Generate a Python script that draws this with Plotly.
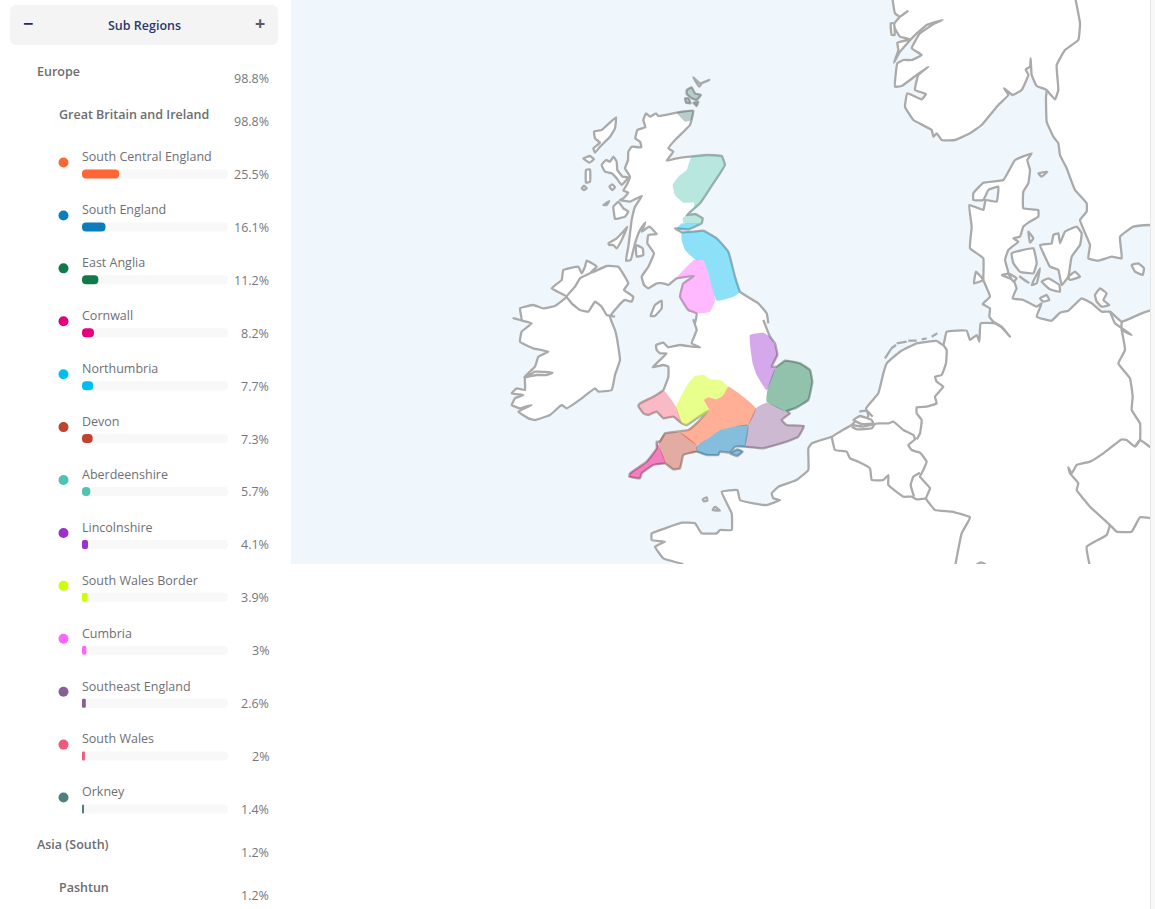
import plotly.graph_objects as go

W, H = 1155, 909

# sidebar values
sub_names = ["South Central England", "South England", "East Anglia", "Cornwall", "Northumbria", "Devon",
             "Aberdeenshire", "Lincolnshire", "South Wales Border", "Cumbria", "Southeast England",
             "South Wales", "Orkney"]
sub_shares = [25.5, 16.1, 11.2, 8.2, 7.7, 7.3, 5.7, 4.1, 3.9, 3, 2.6, 2, 1.4]
sub_colors = ["#ff6633", "#0b7dbb", "#12794a", "#e6007e", "#00bdf2", "#bf432e", "#4dc3b0", "#9b30d0",
              "#ccff00", "#ff66ff", "#8a5f96", "#f05a78", "#4f7f80"]
group_names = ["Europe", "Great Britain and Ireland", "Asia (South)", "Pashtun"]
group_shares = [98.8, 98.8, 1.2, 1.2]

A = (500, 70)    # scotland / north ireland
B = (500, 320)   # england / wales / south ireland / normandy
C = (820, 0)     # norway / sweden / denmark
D = (820, 280)   # low countries / germany

gb_east = [(790, 0), (810, 50), (825, 70), (832, 105), (815, 140), (830, 140), (855, 122), (900, 130), (930, 150),
           (937, 185), (925, 240), (885, 265), (860, 272), (870, 280), (845, 300), (860, 315), (912, 318), (895, 350),
           (860, 365), (790, 385), (735, 380), (705, 380), (690, 398), (660, 395), (655, 405), (620, 405), (590, 395),
           (550, 405), (540, 445), (520, 448), (495, 430), (460, 435), (425, 460), (420, 475), (388, 470), (390, 460),
           (440, 425), (470, 385), (470, 365), (480, 365), (495, 340), (530, 335), (565, 330), (590, 310), (625, 272),
           (590, 295), (560, 315), (545, 310), (520, 290), (490, 295), (470, 275), (445, 285), (430, 280), (415, 258),
           (420, 250), (460, 230), (490, 210), (505, 170), (505, 140), (490, 135), (458, 142), (475, 125), (500, 100),
           (480, 100), (470, 90), (468, 75), (490, 68), (505, 82), (540, 75), (575, 80), (600, 82), (575, 70), (590, 30),
           (580, 0)]
gb_north = [(585, 760), (590, 730), (565, 720), (540, 680), (550, 640), (582, 618), (530, 625), (505, 645), (490, 640),
            (470, 640), (445, 655), (432, 645), (425, 620), (445, 590), (462, 550), (442, 520), (445, 495), (470, 492),
            (448, 470), (425, 485), (436, 458), (420, 480), (405, 520), (392, 570), (378, 572), (385, 530), (390, 490),
            (395, 450), (405, 410), (426, 378), (390, 395), (360, 390), (370, 385), (385, 368), (370, 362), (380, 345),
            (390, 320), (375, 295), (384, 270), (385, 245), (395, 230), (424, 232), (420, 215), (406, 205), (412, 180),
            (436, 172), (430, 150), (438, 130), (450, 140), (468, 130), (475, 138), (535, 127), (580, 122), (570, 165),
            (530, 205), (505, 235), (520, 245), (500, 272), (530, 265), (570, 260), (620, 255), (665, 258), (675, 285),
            (660, 310), (640, 340), (600, 400), (560, 436), (585, 432), (608, 445), (605, 460), (565, 478), (525, 475),
            (545, 487), (580, 485), (610, 482), (650, 505), (685, 545), (705, 620), (720, 665), (775, 700), (800, 730),
            (805, 760)]
ireland_north = [(60, 750), (40, 745), (65, 750), (60, 715), (100, 705), (130, 715), (165, 708), (200, 680), (155, 655),
                 (185, 630), (190, 600), (235, 590), (245, 610), (255, 590), (260, 572), (290, 590), (270, 610), (320, 588),
                 (355, 590), (385, 640), (372, 660), (400, 680), (395, 695), (375, 690), (362, 700), (330, 740), (345, 780)]
ireland_south = [(350, 50), (360, 120), (345, 165), (335, 210), (295, 215), (285, 205), (245, 235), (200, 265), (185, 255),
                 (150, 285), (105, 300), (85, 295), (55, 275), (95, 255), (60, 265), (35, 255), (45, 235), (70, 225),
                 (35, 220), (50, 205), (75, 210), (75, 175), (105, 155), (158, 158), (140, 165), (110, 165), (72, 172),
                 (105, 140), (115, 110), (145, 95), (100, 85), (60, 65), (65, 35), (95, 10), (60, 0)]
ni_border = [(270, 610), (240, 625), (225, 650), (200, 680), (215, 700), (240, 720), (265, 725), (285, 695), (305, 710),
             (320, 735), (345, 740)]

scot_islands = [
    [(348, 142), (345, 175), (330, 200), (300, 230), (285, 248), (280, 235), (300, 218), (285, 205), (282, 185), (305, 180)],
    [(250, 265), (270, 258), (282, 268), (268, 278)],
    [(258, 300), (270, 298), (270, 335), (258, 338)],
    [(245, 355), (252, 347), (260, 355), (252, 360)],
    [(305, 285), (318, 270), (330, 275), (340, 260), (350, 275), (352, 300), (368, 320), (385, 322), (365, 345), (350, 325),
     (335, 310), (315, 305)],
    [(328, 350), (337, 343), (345, 352), (337, 360)],
    [(310, 405), (328, 393), (320, 405)],
    [(340, 410), (355, 395), (370, 415), (385, 425), (375, 440), (345, 447), (342, 430)],
    [(325, 520), (350, 505), (365, 490), (382, 470), (365, 510), (350, 535), (340, 525), (328, 525)],
    [(408, 525), (428, 535), (430, 555), (410, 560)],
    [(452, 738), (465, 705), (485, 692), (485, 715), (465, 738)],
    [(580, 22), (600, 40), (628, 30), (605, 40), (598, 50)],
]
orkney_islands = [
    [(560, 60), (575, 52), (585, 70), (603, 75), (590, 90), (575, 85), (560, 72)],
    [(555, 85), (565, 85), (572, 100), (558, 98)],
    [(580, 98), (595, 95), (590, 108)],
]
south_islands = [
    [(690, 400), (712, 388), (728, 395), (712, 408)],
    [(608, 538), (620, 532), (622, 542), (612, 544)],
    [(638, 570), (645, 560), (660, 572)],
]

france_coast = [(550, 732), (490, 715), (465, 680), (495, 665), (455, 660), (455, 640), (495, 625), (545, 608), (585, 610),
                (605, 640), (650, 640), (660, 630), (695, 630), (695, 580), (665, 515), (712, 510), (720, 540), (760, 550),
                (800, 555), (840, 540), (820, 535), (815, 520), (835, 500), (890, 480), (925, 450), (925, 385), (935, 370),
                (995, 350)]
low_coast = [(60, 455), (95, 435), (105, 425), (140, 420), (145, 405), (138, 385), (175, 340), (190, 280), (200, 250),
             (240, 215), (290, 190), (350, 183), (370, 195), (380, 155), (440, 152), (450, 180), (470, 165), (478, 185),
             (482, 130), (525, 130), (545, 142), (570, 170), (545, 140), (520, 125), (508, 110), (510, 85), (488, 72),
             (510, 50), (495, 12)]
jutland_coast = [(490, 840), (490, 775), (450, 745), (455, 680), (448, 615), (490, 630), (497, 600), (530, 605), (535, 560),
                 (505, 570), (490, 600), (460, 600), (460, 580), (490, 548), (550, 540), (585, 480), (635, 460), (622, 480),
                 (630, 510), (625, 550), (610, 575), (610, 625), (655, 630), (655, 650), (625, 668), (610, 680), (600, 710),
                 (580, 715), (595, 725), (565, 750), (555, 780), (565, 820), (545, 825), (580, 840), (590, 865)]
baltic_coast = [(590, 25), (578, 55), (610, 60), (650, 80), (665, 70), (650, 110), (695, 122), (720, 98), (745, 92), (785, 55),
                (815, 70), (845, 95), (870, 95), (905, 125), (965, 100), (990, 92), (1040, 80), (1040, 1000), (-600, 1000)]

scandinavia = [(215, -20), (225, 40), (240, 50), (265, 32), (240, 50), (220, 75), (240, 110), (270, 118), (232, 128), (235, 150),
               (222, 188), (240, 155), (280, 110), (320, 75), (368, 60), (345, 70), (300, 100), (275, 145), (305, 165), (275, 180),
               (250, 180), (232, 190), (225, 260), (245, 258), (290, 225), (325, 200), (295, 225), (285, 270), (318, 282),
               (305, 298), (262, 280), (255, 320), (280, 360), (335, 390), (340, 410), (350, 400), (365, 420), (405, 420),
               (450, 400), (485, 375), (535, 315), (565, 285), (552, 265), (578, 285), (605, 270), (625, 225), (617, 208),
               (630, 200), (632, 175), (635, 225), (650, 258), (680, 270), (678, 290), (680, 365), (700, 410), (715, 430),
               (720, 465), (740, 505), (765, 570), (800, 610), (800, 635), (780, 660), (810, 735), (805, 775), (835, 782),
               (875, 770), (905, 775), (900, 710), (940, 680), (990, 675), (1040, 675), (1040, -20)]
norway_border = [(680, 270), (705, 298), (715, 270), (710, 195), (735, 150), (775, 120), (780, 70), (765, -10)]
norway_islands = [[(212, 70), (222, 70), (224, 105), (215, 105)]]

denmark_islands = [
    [(660, 735), (695, 730), (700, 705), (715, 700), (720, 730), (735, 695), (770, 680), (785, 700), (780, 735), (755, 770),
     (750, 800), (745, 830), (725, 855), (715, 810), (690, 800), (675, 770)],
    [(575, 760), (640, 745), (650, 790), (640, 820), (600, 815), (580, 790)],
    [(565, 820), (590, 835), (580, 845)],
    [(600, 830), (625, 848), (610, 838)],
    [(635, 855), (660, 805), (650, 850)],
    [(665, 845), (685, 835), (718, 855), (720, 875), (690, 868)],
    [(745, 830), (765, 815), (780, 830), (750, 840)],
    [(655, 520), (682, 515), (665, 530)],
    [(625, 695), (640, 715), (630, 728)],
    [(935, 795), (955, 790), (972, 805), (968, 825), (945, 815)],
    [(462, 850), (468, 815), (490, 840)],
]
german_islands = [
    [(660, 55), (680, 45), (688, 60), (670, 65)],
    [(825, 45), (840, 25), (860, 40), (850, 60), (868, 75), (845, 80), (830, 65)],
    [(100, 420), (120, 408), (155, 420), (160, 430), (125, 432)],
]
low_open_lines = [
    [(195, 235), (215, 205), (228, 195)],
    [(230, 190), (260, 185)],
    [(265, 182), (290, 182)],
    [(305, 178), (320, 175)],
    [(335, 170), (352, 160)],
    [(95, 440), (110, 448), (155, 445), (165, 430)],
    [(118, 395), (140, 392), (158, 410)],
    [(870, 95), (885, 130), (935, 165), (905, 150), (905, 125)],
    [(470, 853), (483, 847), (497, 853)],
    # nl / germany
    [(370, 195), (380, 210), (378, 250), (365, 285), (345, 290), (350, 305), (370, 320), (345, 350), (350, 370), (320, 380),
     (290, 382), (290, 400), (305, 420), (300, 460), (290, 478)],
    # nl / belgium, belgium / germany, germany / france
    [(95, 435), (130, 440), (175, 430), (205, 430), (220, 425), (250, 450), (280, 465), (285, 478), (265, 495), (275, 510),
     (300, 518), (320, 545), (310, 570), (300, 590), (330, 625), (318, 655), (345, 690), (395, 695), (450, 712), (425, 760),
     (405, 860)],
    # belgium / france
    [(35, 470), (45, 510), (80, 515), (90, 535), (115, 545), (150, 565), (155, 600), (190, 600), (205, 585), (205, 615),
     (250, 650), (275, 650), (290, 658), (318, 655)],
    [(300, 578), (280, 590), (272, 615), (282, 650)],
    # germany / poland, germany / czechia, czechia / austria
    [(905, 150), (915, 210), (895, 250), (930, 295), (938, 350), (935, 390), (960, 430), (960, 480), (945, 500), (920, 480),
     (905, 478), (850, 520), (810, 545), (770, 555), (755, 580), (745, 562), (750, 580), (775, 610), (770, 630), (810, 680),
     (870, 735), (890, 755), (935, 755), (960, 712), (995, 715)],
    [(945, 500), (960, 480), (995, 505)],
    [(870, 735), (860, 765), (800, 800), (810, 860)],
]

# coloured sub region shapes
region_shapes = {
    "Aberdeenshire": (A, 0.4, [[(575, 260), (665, 258), (675, 285), (660, 310), (640, 340), (600, 400), (565, 436), (585, 432),
                                (608, 445), (605, 458), (550, 458), (548, 445), (582, 415), (582, 398), (550, 398), (525, 375),
                                (518, 345), (535, 320), (560, 300)]]),
    "Northumbria": (A, 0.45, [[(546, 460), (603, 460), (565, 478), (530, 476)],
                              [(545, 487), (580, 485), (610, 482), (650, 505), (685, 545), (705, 620), (720, 665), (700, 680),
                               (650, 692), (625, 610), (610, 572), (588, 570), (555, 540), (545, 510)]]),
    "Cumbria": (A, 0.45, [[(530, 625), (582, 570), (610, 572), (625, 610), (645, 690), (630, 725), (590, 730), (565, 720),
                           (540, 680), (550, 640), (582, 618)]]),
    "Orkney": (A, 0.4, [[(530, 127), (580, 122), (575, 150), (555, 155)], [(560, 60), (575, 52), (585, 70), (603, 75), (590, 90),
                        (575, 85), (560, 72)], [(555, 85), (565, 85), (572, 100), (558, 98)], [(580, 98), (595, 95), (590, 108)]]),
    "Lincolnshire": (B, 0.42, [[(750, 45), (790, 38), (810, 50), (825, 75), (832, 105), (815, 140), (825, 145), (800, 210),
                                (770, 165), (758, 130)]]),
    "East Anglia": (B, 0.46, [[(825, 145), (855, 122), (900, 130), (930, 150), (937, 185), (925, 240), (885, 265), (860, 275),
                               (800, 245), (802, 210)]]),
    "Southeast England": (B, 0.43, [[(800, 248), (860, 275), (870, 280), (845, 300), (860, 315), (912, 318), (895, 350), (860, 365),
                                     (790, 385), (735, 380), (745, 315), (768, 265)]]),
    "South Central England": (B, 0.52, [[(685, 200), (768, 265), (745, 315), (700, 320), (660, 330), (625, 355), (590, 375),
                                         (540, 337), (565, 330), (590, 310), (628, 272), (612, 240), (625, 232), (650, 238),
                                         (670, 225)]]),
    "South England": (B, 0.5, [[(590, 378), (625, 355), (660, 330), (700, 320), (745, 315), (735, 380), (705, 380), (690, 398),
                                (660, 395), (655, 405), (620, 405), (590, 395)],
                               [(690, 400), (712, 388), (728, 395), (712, 408)]]),
    "Devon": (B, 0.44, [[(495, 340), (540, 337), (590, 375), (590, 395), (550, 405), (540, 445), (520, 448), (497, 430), (475, 368)]]),
    "Cornwall": (B, 0.5, [[(470, 365), (497, 430), (460, 435), (425, 460), (420, 475), (388, 470), (390, 460), (440, 425), (470, 385)]]),
    "South Wales Border": (B, 0.45, [[(585, 168), (612, 165), (630, 178), (660, 180), (685, 200), (670, 225), (650, 238), (625, 232),
                                      (612, 240), (628, 272), (590, 295), (560, 315), (545, 310), (528, 260), (545, 225), (565, 190)]]),
    "South Wales": (B, 0.42, [[(492, 212), (528, 260), (545, 310), (520, 290), (490, 295), (470, 275), (445, 285), (430, 280),
                               (415, 258), (420, 250), (460, 230)]]),
}

LAND_LINE = "#aaaaaa"
TEXT = "#6f6f74"


def to_map(points, origin):
    return [origin[0] + p[0] / 3 for p in points], [origin[1] + p[1] / 3 for p in points]


def join(*parts):
    xs, ys = [], []
    for points, origin in parts:
        px, py = to_map(points, origin)
        xs += px
        ys += py
    return xs, ys


def land(fig, xs, ys, closed=True):
    fig.add_trace(go.Scatter(x=xs, y=ys, mode="lines", fill="toself" if closed else None, fillcolor="white",
                             line=dict(color=LAND_LINE, width=2.3, shape="spline", smoothing=0.3),
                             hoverinfo="skip", xaxis="x2", yaxis="y2"))


def rounded_bar(fig, values, color):
    # an explicit base makes plotly round both ends of the bar
    fig.add_trace(go.Bar(x=values, base=[0] * len(values), y=sub_names, orientation="h", width=0.17,
                         marker=dict(color=color, cornerradius=4, line_width=0), hoverinfo="skip",
                         xaxis="x3", yaxis="y3"))


fig = go.Figure()

# land
xs, ys = join((scandinavia, C))
land(fig, xs, ys)
xs, ys = join((france_coast, B), (low_coast, D), (jutland_coast, C), (baltic_coast, D))
land(fig, xs, ys)
xs, ys = join((gb_east, B), (gb_north, A))
land(fig, xs, ys)
xs, ys = join((ireland_north, A), (ireland_south, B))
land(fig, xs, ys)

for islands, origin in [(scot_islands, A), (orkney_islands, A), (south_islands, B), (norway_islands, C),
                        (denmark_islands, C), (german_islands, D)]:
    for island in islands:
        xs, ys = to_map(island + island[:1], origin)
        land(fig, xs, ys)

# borders and open bits of coast
for line, origin in [(ni_border, A), (norway_border, C)] + [(l, D) for l in low_open_lines]:
    xs, ys = to_map(line, origin)
    land(fig, xs, ys, closed=False)

# sub regions on top of the coast
for name, color in zip(sub_names, sub_colors):
    origin, alpha, parts = region_shapes[name]
    for part in parts:
        xs, ys = to_map(part + part[:1], origin)
        fig.add_trace(go.Scatter(x=xs, y=ys, mode="lines", fill="toself", fillcolor=color, opacity=alpha,
                                 line=dict(width=0, shape="spline", smoothing=0.4), hoverinfo="skip", xaxis="x2", yaxis="y2"))

# share bars
rounded_bar(fig, [100] * len(sub_names), "#f8f8f8")
rounded_bar(fig, sub_shares, sub_colors)

ROW0, STEP = 174, 52.92
row_y = [ROW0 + i * STEP for i in range(len(sub_names))]

# legend dots
fig.add_trace(go.Scatter(x=[63.5] * len(sub_names), y=[y - 11.5 for y in row_y], mode="markers",
                         marker=dict(color=sub_colors, size=10), hoverinfo="skip", xaxis="x", yaxis="y"))

annotations = []


def label(text, x, y, size=12.5, color=TEXT, anchor="left", weight=None):
    annotations.append(dict(text=text, x=x, y=y, xref="x", yref="y", showarrow=False, xanchor=anchor, yanchor="middle",
                            borderpad=0, borderwidth=0,
                            font=dict(family="Open Sans", size=size, color=color, weight=weight)))


for name, share, y in zip(sub_names, sub_shares, row_y):
    label(name, 82, y - 17.2)
    label(f"{share}%", 269, y + 0.4, anchor="right", color="#77777a")

group_x = [37, 59, 37, 59]
group_y = [78, 121, 852, 895]
group_name_y = [71, 114, 844, 887]
for name, share, x, y, name_y in zip(group_names, group_shares, group_x, group_y, group_name_y):
    label(name, x, name_y, color="#6c6c71", weight=600)
    label(f"{share}%", 269, y, anchor="right", color="#77777a")

label("Sub Regions", 144, 25, color="#2c3868", anchor="center", weight=600)
label("−", 28, 23, size=18, color="#1d2b64", anchor="center", weight=700)
label("+", 259.5, 23, size=18, color="#5a5a60", anchor="center", weight=700)

fig.update_layout(
    width=W,
    height=H,
    margin=dict(l=0, r=0, t=0, b=0),
    paper_bgcolor="white",
    plot_bgcolor="rgba(0,0,0,0)",
    showlegend=False,
    barmode="overlay",
    annotations=annotations,
    xaxis=dict(domain=[0, 1], range=[0, W], visible=False),
    yaxis=dict(domain=[0, 1], range=[H, 0], visible=False),
    xaxis2=dict(domain=[291 / W, 1150 / W], range=[291, 1150], visible=False, anchor="y2"),
    yaxis2=dict(domain=[1 - 564 / H, 1], range=[564, 0], visible=False, anchor="x2"),
    xaxis3=dict(domain=[82 / W, 228 / W], range=[0, 100], visible=False, anchor="y3"),
    yaxis3=dict(domain=[1 - (ROW0 + 12.5 * STEP) / H, 1 - (ROW0 - 0.5 * STEP) / H], range=[12.5, -0.5], visible=False,
                anchor="x3", type="category", categoryorder="array", categoryarray=sub_names),
    shapes=[
        dict(type="rect", xref="x", yref="y", x0=291, x1=1150, y0=0, y1=564, fillcolor="#f0f7fc", line_width=0, layer="below"),
        dict(type="rect", xref="x", yref="y", x0=1150, x1=1151.3, y0=0, y1=909, fillcolor="#e6e6e6", line_width=0, layer="below"),
        dict(type="rect", xref="x", yref="y", x0=1151.3, x1=1155, y0=0, y1=909, fillcolor="#f8f8f8", line_width=0, layer="below"),
        dict(type="path", xref="x", yref="y", layer="below", fillcolor="#f4f4f4", line_width=0,
             path="M 16 5 L 272 5 Q 278 5 278 11 L 278 39 Q 278 45 272 45 L 16 45 Q 10 45 10 39 L 10 11 Q 10 5 16 5 Z"),
    ],
)

fig.write_html("out.html", config={"displayModeBar": False}, post_script="document.body.style.margin='0';")
